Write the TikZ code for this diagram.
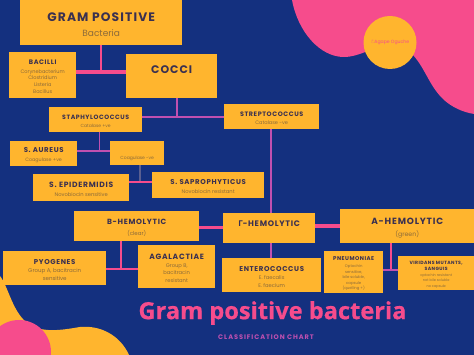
\documentclass[tikz,border=0pt]{standalone}
\usepackage{fontspec}
\setmainfont{Poppins}
\newfontfamily\hd[LetterSpace=9]{Poppins}
\newfontfamily\hdw[LetterSpace=14]{Poppins}
\newfontfamily\gammafont{Open Sans}
\newfontfamily\titlefont[BoldFeatures={FakeBold=0.5}]{Open Sans}
\definecolor{navy}{HTML}{14307F}
\definecolor{amber}{HTML}{FFB52E}
\definecolor{rose}{HTML}{F64C8C}
\definecolor{orchid}{HTML}{C050B0}
\definecolor{slateblue}{HTML}{5A5F90}
\definecolor{ink}{HTML}{3A3050}
\definecolor{umber}{HTML}{8C6B3A}
\newcommand{\hlabel}[2]{{\fontsize{#1}{#1}\selectfont\hd\bfseries\color{ink}#2}}
\newcommand{\slabel}[2]{{\fontsize{#1}{#1}\selectfont\color{umber}#2}}
\tikzset{
  card/.style={fill=amber,inner sep=0pt,anchor=north west},
  cardtext/.style={inner sep=0pt,align=center,yshift=-1.5pt},
  heavy/.style={draw=rose,line width=4.5pt},
  medium/.style={draw=rose,line width=2.5pt},
  fine/.style={draw=orchid,line width=1.4pt},
  muted/.style={draw=slateblue,line width=1.4pt},
}
% Card placed by its top-left corner and size, with its text set at a given line pitch
\newcommand{\card}[6][7]{%
  \node[card,minimum width=#4pt,minimum height=#5pt] (#2) at (#3) {};
  \node[cardtext,font=\fontsize{#1}{#1}\selectfont] (#2-text) at (#2.center) {#6};}
\begin{document}
\begin{tikzpicture}[x=1pt,y=-1pt]
\useasboundingbox (0,0) rectangle (474,355);
\fill[navy] (0,0) rectangle (474,355);

% Decorative blobs
\fill[rose] (292,0) .. controls (298,32) and (320,57) .. (344,57)
  .. controls (352,57) and (360,54) .. (368,51) -- (410,52)
  .. controls (425,66) and (428,85) .. (444,100)
  .. controls (452,107) and (462,112) .. (474,114) -- (474,0) -- cycle;
\fill[amber] (0,276) .. controls (8,286) and (12,310) .. (26,322)
  .. controls (40,334) and (62,330) .. (80,327)
  .. controls (100,325) and (120,335) .. (129,355) -- (0,355) -- cycle;
\fill[rose] (19,352) circle[radius=32];

% Cards
\card[15]{gram}{20,0}{162}{45}{\hlabel{12.3}{GRAM POSITIVE}\\\slabel{9}{Bacteria}}
\card[6.7]{bacilli}{9,52}{67}{46}{\hlabel{6.5}{BACILLI}\\[1.5pt]\slabel{5}{Corynebacterium}\\\slabel{5}{Clostridium}\\\slabel{5}{Listeria}\\\slabel{5}{Bacillus}}
\card[13]{cocci}{126,54}{91}{44}{\hlabel{11}{COCCI}\\\strut}
\card[8]{staph}{49,107}{93}{25}{\hlabel{6.2}{STAPHYLOCOCCUS}\\\slabel{4.5}{Catalase +ve}}
\card[8.5]{strep}{224,104}{95}{25}{\hlabel{6.4}{STREPTOCOCCUS}\\\slabel{5}{Catalase -ve}}
\card[8.5]{aureus}{10,141}{67}{25}{\hlabel{7}{S. AUREUS}\\\slabel{4.8}{Coagulase +ve}}
\card[6.5]{coag}{110,141}{54}{24}{\strut\\\slabel{4.5}{Coagulase -ve}}
\card[9]{epi}{33,174}{96}{27}{\hlabel{7.6}{S. EPIDERMIDIS}\\\slabel{5.2}{Novobiocin sensitive}}
\card[9]{sapro}{152,172}{112}{26}{\hlabel{7}{S. SAPROPHYTICUS}\\\slabel{5.2}{Novobiocin resistant}}
\card[10.5]{beta}{74,211}{125}{30}{\hlabel{7.5}{B-HEMOLYTIC}\\\slabel{5.5}{(clear)}}
\card[10]{gamma}{223,213}{92}{30}{\hlabel{8}{{\gammafont Γ}-HEMOLYTIC}\\\strut}
\card[12]{alpha}{340,209}{134}{34}{\hlabel{9}{A-HEMOLYTIC}\\\slabel{6.2}{(green)}}
\card[7.5]{pyo}{3,251}{103}{34}{\hlabel{7}{PYOGENES}\\[1pt]\slabel{5.5}{Group A, bacitracin}\\\slabel{5.5}{sensitive}}
\card[7.7]{aga}{138,245}{77}{43}{\hlabel{7.6}{AGALACTIAE}\\\slabel{5.2}{Group B,}\\\slabel{5.2}{bacitracin}\\\slabel{5.2}{resistant}}
\card[7.5]{entero}{222,258}{99}{34}{\hlabel{7}{ENTEROCOCCUS}\\[1pt]\slabel{5.2}{E. faecalis}\\\slabel{5.2}{E. faecium}}
\card[5.6]{pneu}{324,251}{59}{42}{\hlabel{5.5}{PNEUMONIAE}\\[1.5pt]\slabel{3.8}{Optochin}\\\slabel{3.8}{sensitive,}\\\slabel{3.8}{bile soluble,}\\\slabel{3.8}{capsule}\\\slabel{3.8}{(quelling +)}}
\card[5.2]{viri}{398,256}{76}{34}{\hlabel{4.6}{VIRIDANS MUTANTS,}\\[.8pt]\hlabel{4.6}{SANGUIS}\\[.8pt]\slabel{3.5}{optochin resistant}\\\slabel{3.5}{not bile soluble}\\\slabel{3.5}{no capsule}}

% Signature disc
\node[circle,fill=amber,minimum size=53pt,inner sep=0pt] (disc) at (390,42.5)
  {\raisebox{-3pt}{\fontsize{4.6}{5}\selectfont\color{rose}©Agape Oguche}};

% Junction points on the connector rails
\coordinate (jtop) at (101,72);
\coordinate (jcocci) at (177,117);
\coordinate (jstaph) at (99.5,151);
\coordinate (jcoag) at (140,182);
\coordinate (jstrep) at (271,213);
\coordinate (jbeta) at (121,269);
\coordinate (jalpha) at (391,270);
\coordinate (lbeta) at (210,228);
\coordinate (lalpha) at (330,226);

% Connectors
\draw[medium] (gram.south -| jtop) -- (jtop);
\draw[heavy] (bacilli.east |- jtop) -- (cocci.west |- jtop);
\draw[fine] (cocci.south -| jcocci) -- (jcocci);
\draw[fine] (staph.east |- jcocci) -- (strep.west |- jcocci);
\draw[fine] (staph.south -| jstaph) -- (jstaph);
\draw[fine] (aureus.east |- jstaph) -- (coag.west |- jstaph);
\draw[muted] (coag.south -| jcoag) -- (jcoag);
\draw[medium,line width=2pt] (epi.east |- jcoag) -- (sapro.west |- jcoag);
\draw[fine] (strep.south -| jstrep) -- (jstrep);
\draw[fine] (gamma.south -| jstrep) -- (entero.north -| jstrep);
\draw[medium,line width=3pt] (beta.east |- lbeta) -- (gamma.west |- lbeta);
\draw[medium,line width=3.5pt] (gamma.east |- lalpha) -- (alpha.west |- lalpha);
\draw[medium] (beta.south -| jbeta) -- (jbeta);
\draw[medium] (pyo.east |- jbeta) -- (aga.west |- jbeta);
\draw[medium] (alpha.south -| jalpha) -- (jalpha);
\draw[fine] (pneu.east |- jalpha) -- (viri.west |- jalpha);

% Chart title
\node[inner sep=0pt] (title) at (272.5,313) {\fontsize{23.6}{24}\selectfont\titlefont\bfseries\color{rose}Gram positive bacteria};
\node[inner sep=0pt] (subtitle) at (266,337) {\fontsize{6.6}{7}\selectfont\hdw\bfseries\color{orchid}CLASSIFICATION CHART};
\end{tikzpicture}
\end{document}
